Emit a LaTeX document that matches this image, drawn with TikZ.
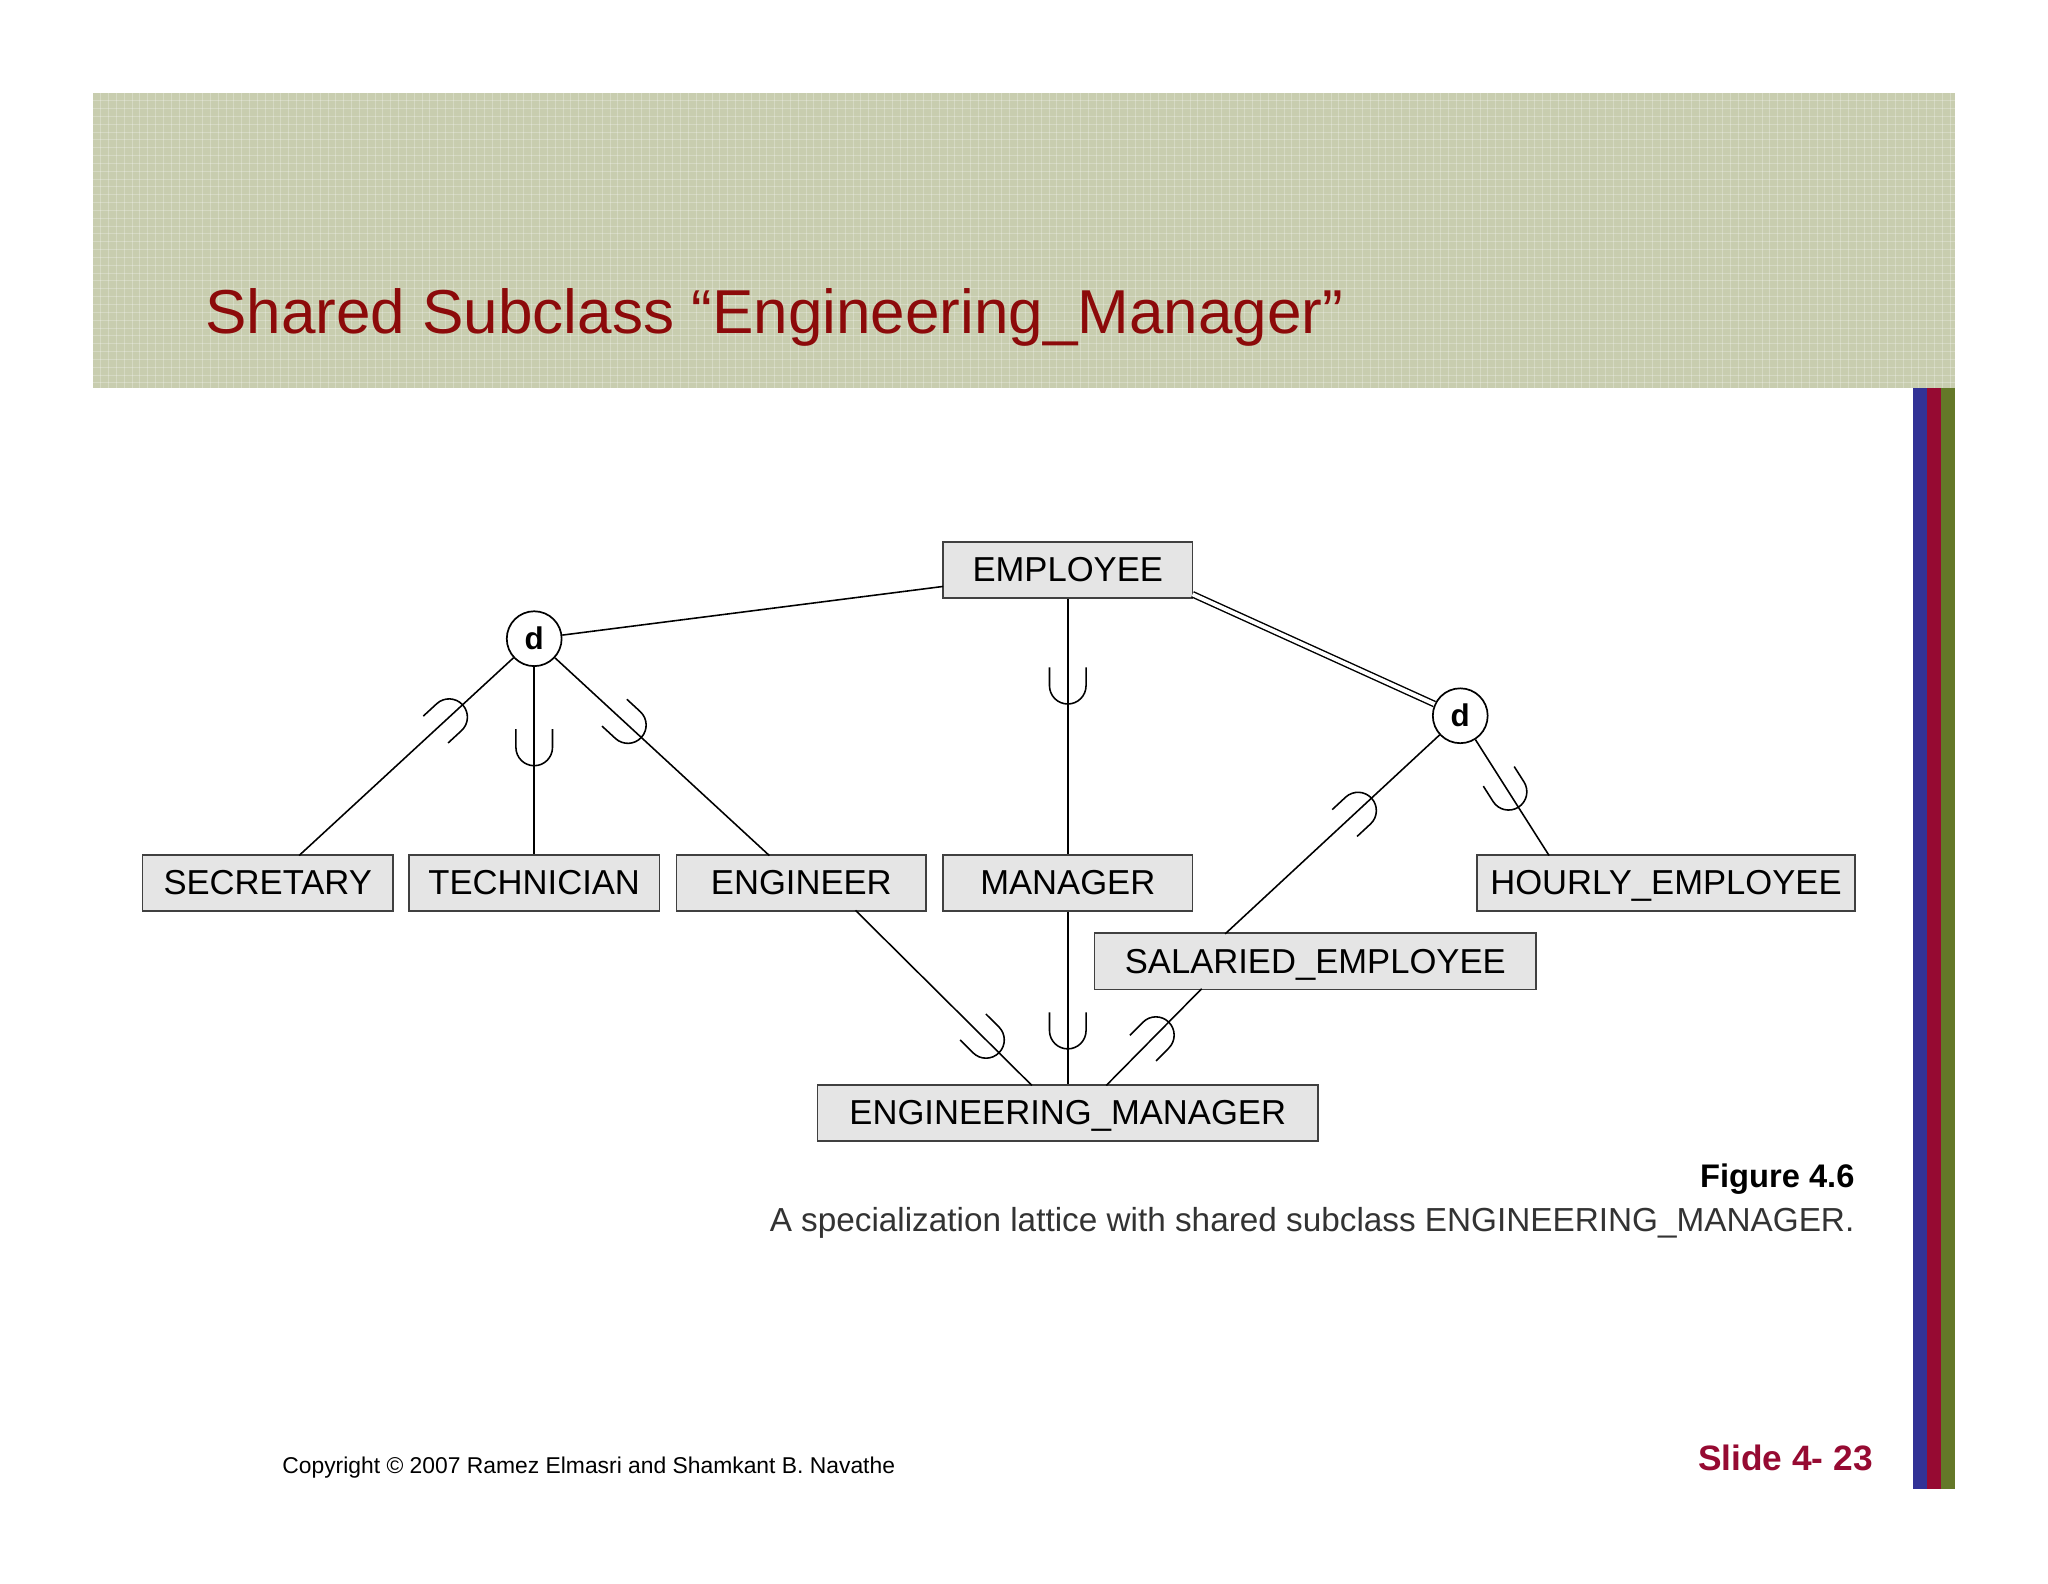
\documentclass[tikz,border=0pt]{standalone}
\usepackage{fontspec}
\setmainfont{Liberation Sans}
\begin{document}
\begin{tikzpicture}[x=1pt,y=-1pt,
  ent/.style={draw=black!75,fill=black!10,line width=1.2pt,minimum height=43pt,inner sep=0pt,text height=19pt,text depth=1pt,font=\fontsize{26.5}{26.5}\selectfont},
  dcirc/.style={circle,draw,fill=white,line width=1.3pt,minimum size=42pt,inner sep=0pt,font=\fontsize{24}{24}\selectfont\bfseries},
  ln/.style={line width=1.2pt},
  cup/.pic={\draw[line width=1.2pt] (-14,-14) -- (0,-14) arc(-90:90:14) -- (-14,14);}]
\useasboundingbox (0,0) rectangle (1568,1212);
\fill[white] (0,0) rectangle (1568,1212);
\fill[fill={rgb,255:red,200;green,205;blue,175}] (71,71) rectangle (1497,297);
\foreach \i in {0,6,...,1426}{\draw[white,opacity=0.25,line width=0.5pt] (71+\i,71) -- (71+\i,297);}
\foreach \i in {0,6,...,226}{\draw[white,opacity=0.25,line width=0.5pt] (71,71+\i) -- (1497,71+\i);}
\node[anchor=base west,text={rgb,255:red,140;green,10;blue,10},font=\fontsize{47.5}{47.5}\selectfont,inner sep=0pt] (title) at (157,255) {Shared Subclass “Engineering\_Manager”};
\fill[fill={rgb,255:red,50;green,50;blue,150}] (1465,297) rectangle (1475,1140);
\fill[fill={rgb,255:red,150;green,10;blue,50}] (1475,297) rectangle (1486,1140);
\fill[fill={rgb,255:red,100;green,120;blue,40}] (1486,297) rectangle (1497,1140);

\node[ent,minimum width=191pt] (emp) at (817.5,436.5) {EMPLOYEE};
\node[ent,minimum width=192pt] (sec) at (205,676) {SECRETARY};
\node[ent,minimum width=192pt] (tec) at (409,676) {TECHNICIAN};
\node[ent,minimum width=191pt] (eng) at (613.5,676) {ENGINEER};
\node[ent,minimum width=191pt] (man) at (817.5,676) {MANAGER};
\node[ent,minimum width=289pt] (hou) at (1275.5,676) {HOURLY\_EMPLOYEE};
\node[ent,minimum width=338pt] (sal) at (1007,736) {SALARIED\_EMPLOYEE};
\node[ent,minimum width=383pt] (em) at (817.5,852) {ENGINEERING\_MANAGER};
\node[dcirc] (d1) at (409,489) {d};
\node[dcirc] (d2) at (1118,548) {d};

\coordinate (empL) at (722,449);
\coordinate (empR) at (913,455);
\draw[ln] (empL) -- (d1);
\draw[line width=1.1pt,double,double distance=3pt] (empR) -- (d2);
\draw[ln] (emp.south) -- pic[pos=0.34,sloped]{cup} (man.north);
\coordinate (secT) at (229,655);
\coordinate (engT) at (589,655);
\draw[ln] (d1) -- pic[pos=0.3,sloped]{cup} (secT);
\draw[ln] (d1) -- pic[pos=0.43,sloped]{cup} (tec.north);
\draw[ln] (d1) -- pic[pos=0.34,sloped]{cup} (engT);
\coordinate (salT) at (938,715);
\coordinate (houT) at (1186,655);
\draw[ln] (d2) -- pic[pos=0.38,sloped]{cup} (salT);
\draw[ln] (d2) -- pic[pos=0.45,sloped]{cup} (houT);
\coordinate (engB) at (655,697);
\coordinate (salB) at (920,757);
\coordinate (em1) at (790,831);
\coordinate (em3) at (847,831);
\draw[ln] (engB) -- pic[pos=0.74,sloped]{cup} (em1);
\draw[ln] (man.south) -- pic[pos=0.69,sloped]{cup} (em.north);
\draw[ln] (salB) -- pic[pos=0.48,sloped]{cup} (em3);

\node[anchor=base east,font=\fontsize{25}{25}\selectfont\bfseries,inner sep=0pt] (fig) at (1420,909) {Figure 4.6};
\node[anchor=base east,font=\fontsize{25.5}{25.5}\selectfont,text=black!80,inner sep=0pt] (cap) at (1420,943) {A specialization lattice with shared subclass ENGINEERING\_MANAGER.};
\node[anchor=base west,font=\fontsize{17.5}{17.5}\selectfont,inner sep=0pt] (copy) at (216,1128) {Copyright © 2007 Ramez Elmasri and Shamkant B. Navathe};
\node[anchor=base east,font=\fontsize{27}{27}\selectfont\bfseries,text={rgb,255:red,150;green,10;blue,50},inner sep=0pt] (slide) at (1434,1126) {Slide 4- 23};
\end{tikzpicture}
\end{document}
